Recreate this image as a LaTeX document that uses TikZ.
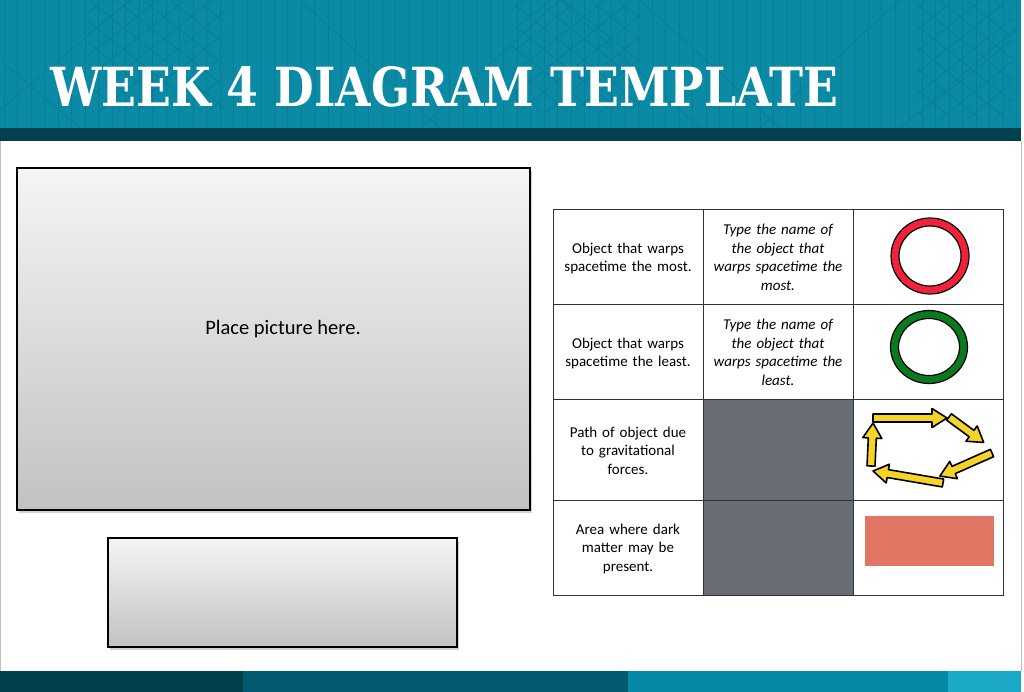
\documentclass[tikz,border=0pt]{standalone}
\usepackage{fontspec}
\setmainfont{Carlito}
\newfontfamily\titlefont{DejaVu Serif}
\usetikzlibrary{shadows}
\definecolor{teal1}{HTML}{0B8AA6}
\definecolor{tealpat}{HTML}{097C96}
\definecolor{darkband}{HTML}{023F4F}
\definecolor{band2}{HTML}{035A70}
\definecolor{band3}{HTML}{0589A6}
\definecolor{band4}{HTML}{1AAAC8}
\definecolor{cellgray}{HTML}{686D75}
\definecolor{ringred}{HTML}{F0233A}
\definecolor{ringgreen}{HTML}{0B7A1C}
\definecolor{arrowyel}{HTML}{F5D327}
\definecolor{salmon}{HTML}{E07563}
\tikzset{
  picbox/.style={draw=black, line width=1.3pt, top color=gray!8, bottom color=gray!48,
    drop shadow={shadow xshift=2pt, shadow yshift=-3pt, opacity=0.35}},
  cell/.style={draw=black!80, line width=0.8pt, minimum width=150pt, minimum height=95pt, inner sep=0pt},
  celltext/.style={text width=140pt, align=center, font=\fontsize{15}{18.5}\selectfont},
  celltextit/.style={celltext, font=\fontsize{15}{18.5}\selectfont\itshape},
  ring/.style={line width=7.5pt},
  ringedge/.style={draw=black, line width=1.2pt},
  yarrow/.style={draw=black, line width=1.6pt, fill=arrowyel, line join=round},
  patline/.style={draw=tealpat, line width=0.7pt}
}
\newcommand{\yelarrow}[4]{%
  \draw[yarrow, shift={(#1,#2)}, rotate=#3]
    (0,-4) -- (#4-15,-4) -- (#4-15,-9.5) -- (#4,0) -- (#4-15,9.5) -- (#4-15,4) -- (0,4) -- cycle;}
\begin{document}
\begin{tikzpicture}[x=1pt, y=-1pt]
\useasboundingbox (0,0) rectangle (1024,692);
\fill[white] (0,0) rectangle (1024,692);
% header
\fill[teal1] (0,0) rectangle (1021,128);
\begin{scope}
\clip (0,0) rectangle (1021,128);
\foreach \x in {4,17.5,...,1021} {\draw[patline] (\x,0) -- (\x,128);}
% small lattices
\begin{scope}
\clip (88,0) rectangle (225,112);
\foreach \s in {-100,-73,...,300} {
  \draw[patline] (\s,0) -- ++(150,120);
  \draw[patline] (\s,120) -- ++(150,-120);
}
\end{scope}
\begin{scope}
\clip (512,0) rectangle (640,112);
\foreach \s in {320,347,...,700} {
  \draw[patline] (\s,0) -- ++(150,120);
  \draw[patline] (\s,120) -- ++(150,-120);
}
\end{scope}
\begin{scope}
\clip (918,0) rectangle (1012,128);
\foreach \s in {750,777,...,1100} {
  \draw[patline] (\s,0) -- ++(150,120);
  \draw[patline] (\s,120) -- ++(150,-120);
}
\end{scope}
% large diamonds
\draw[patline] (0,110) -- (130,0);
\draw[patline] (0,60) -- (80,128);
\draw[patline] (300,0) -- (440,128);
\draw[patline] (420,128) -- (560,0);
\draw[patline] (560,0) -- (700,128);
\draw[patline] (640,0) -- (780,128);
\draw[patline] (760,128) -- (900,0);
\draw[patline] (900,128) -- (1021,25);
\end{scope}
\fill[darkband] (0,128) rectangle (1021,141);
\node[anchor=south west, inner sep=0pt, text=white] (title) at (50,107)
  {\resizebox{788pt}{40pt}{\titlefont\bfseries WEEK 4 DIAGRAM TEMPLATE}};
% slide edges
\draw[gray!50, line width=0.8pt] (0.5,141) -- (0.5,671);
\draw[gray!50, line width=0.8pt] (1021,141) -- (1021,671);
% picture boxes
\node[picbox, minimum width=513pt, minimum height=342pt, inner sep=0pt] (bigbox) at (273.5,339) {};
\node[font=\fontsize{20.5}{24}\selectfont] (placetext) at (283,329) {Place picture here.};
\node[picbox, minimum width=349pt, minimum height=109pt, inner sep=0pt] (smallbox) at (282.5,592.5) {};
% table
\node[cell] (c11) at (628,256.5) {};
\node[cell] (c12) at (778,256.5) {};
\node[cell] (c13) at (928,256.5) {};
\node[cell] (c21) at (628,351.5) {};
\node[cell] (c22) at (778,351.5) {};
\node[cell] (c23) at (928,351.5) {};
\node[cell, minimum height=101pt] (c31) at (628,449.5) {};
\node[cell, minimum height=101pt, fill=cellgray] (c32) at (778,449.5) {};
\node[cell, minimum height=101pt] (c33) at (928,449.5) {};
\node[cell] (c41) at (628,547.5) {};
\node[cell, fill=cellgray] (c42) at (778,547.5) {};
\node[cell] (c43) at (928,547.5) {};
\node[celltext] (t11) at ([yshift=-2pt]c11.center) {Object that warps\\spacetime the most.};
\node[celltextit] (t12) at ([yshift=-1pt]c12.center) {Type the name of\\the object that\\warps spacetime the\\most.};
\node[celltext] (t21) at ([yshift=-2pt]c21.center) {Object that warps\\spacetime the least.};
\node[celltextit] (t22) at ([yshift=-1pt]c22.center) {Type the name of\\the object that\\warps spacetime the\\least.};
\node[celltext] (t31) at ([yshift=-1pt]c31.center) {Path of object due\\to gravitational\\forces.};
\node[celltext] (t41) at ([yshift=-1pt]c41.center) {Area where dark\\matter may be\\present.};
% rings
\draw[ring, ringred] (930,256) ellipse [x radius=35, y radius=34];
\draw[ringedge] (930,256) ellipse [x radius=39, y radius=38];
\draw[ringedge] (930,256) ellipse [x radius=31, y radius=30];
\draw[ring, ringgreen] (929,347) ellipse [x radius=34.5, y radius=32.5];
\draw[ringedge] (929,347) ellipse [x radius=38.5, y radius=36.5];
\draw[ringedge] (929,347) ellipse [x radius=30.5, y radius=28.5];
% arrows
\yelarrow{873}{418}{0}{74}
\yelarrow{949}{417}{-36.3}{43}
\yelarrow{992}{453}{-156.1}{57}
\yelarrow{943}{483}{170.3}{71}
\yelarrow{871}{466}{87.3}{43}
% salmon rectangle
\fill[salmon] (865,516) rectangle (994,566);
% bottom band
\fill[darkband] (0,671) rectangle (243,692);
\fill[band2] (243,671) rectangle (628,692);
\fill[band3] (628,671) rectangle (948,692);
\fill[band4] (948,671) rectangle (1021,692);
\end{tikzpicture}
\end{document}
